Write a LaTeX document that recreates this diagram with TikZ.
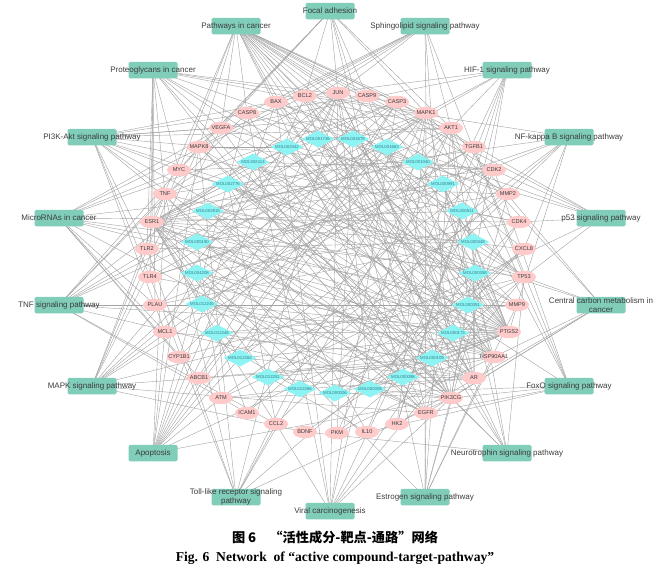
\documentclass[tikz,border=0pt]{standalone}
\usepackage{fontspec}
\setmainfont{Liberation Sans}
\newfontfamily\cjkfont{Noto Sans CJK SC}
\newfontfamily\capserif{Liberation Serif}
\usetikzlibrary{shapes.geometric}
\pgfdeclarelayer{bg}
\pgfsetlayers{bg,main}
\definecolor{pathfill}{HTML}{80CDB9}
\definecolor{tgtfill}{HTML}{FFCACA}
\definecolor{molfill}{HTML}{8EF3F3}
\definecolor{edgec}{HTML}{A4A4A4}
\definecolor{txtc}{HTML}{3C3C3C}
\definecolor{molt}{HTML}{2F7F8F}
\tikzset{
  pathbox/.style={rectangle, rounded corners=1.5pt, fill=pathfill, minimum width=49pt, minimum height=16.5pt, inner sep=0pt},
  pathlbl/.style={font=\fontsize{8}{9.5}\selectfont, text=txtc, align=center, inner sep=0pt},
  tgt/.style={ellipse, fill=tgtfill, minimum width=24pt, minimum height=12.5pt, inner sep=0pt, font=\fontsize{5.6}{6}\selectfont, text=txtc},
  mol/.style={diamond, fill=molfill, minimum width=33pt, minimum height=17pt, inner sep=0pt, font=\fontsize{4.3}{5}\selectfont, text=molt},
  edge/.style={draw=edgec, line width=0.42pt},
}
\newcommand{\pw}[4]{\node[pathbox, label={[pathlbl]center:{#4}}] (#1) at (#2,#3) {};}
\newcommand{\tg}[3]{\node[tgt] (#1) at (#2,#3) {\makebox[0pt]{#1}};}
\newcommand{\ml}[4]{\node[mol] (#1) at (#2,#3) {\makebox[0pt]{#4}};}
\begin{document}
\begin{tikzpicture}[x=1pt,y=-1pt]
\useasboundingbox (0,0) rectangle (667,574);
% pathways
\pw{p1}{330}{11}{Focal adhesion}
\pw{p2}{236}{26}{Pathways in cancer}
\pw{p3}{425}{26}{Sphingolipid signaling pathway}
\pw{p4}{153}{70}{Proteoglycans in cancer}
\pw{p5}{507}{70}{HIF-1 signaling pathway}
\pw{p6}{92}{137}{PI3K-Akt signaling pathway}
\pw{p7}{569}{137}{NF-kappa B signaling pathway}
\pw{p8}{59}{218}{MicroRNAs in cancer}
\pw{p9}{601}{218}{p53 signaling pathway}
\pw{p10}{59}{305}{TNF signaling pathway}
\pw{p11}{601}{305}{Central carbon metabolism in\\cancer}
\pw{p12}{92}{386}{MAPK signaling pathway}
\pw{p13}{569}{386}{FoxO signaling pathway}
\pw{p14}{153}{453}{Apoptosis}
\pw{p15}{507}{453}{Neurotrophin signaling pathway}
\pw{p16}{236}{497}{Toll-like receptor signaling\\pathway}
\pw{p17}{425}{497}{Estrogen signaling pathway}
\pw{p18}{330}{511}{Viral carcinogenesis}
% targets
\tg{BCL2}{305}{96}
\tg{JUN}{338}{93}
\tg{CASP9}{367}{96}
\tg{BAX}{276}{102}
\tg{CASP3}{397}{102}
\tg{CASP8}{247}{113}
\tg{MAPK1}{426}{113}
\tg{VEGFA}{221}{128}
\tg{AKT1}{451}{128}
\tg{MAPK8}{199}{147}
\tg{TGFB1}{474}{147}
\tg{MYC}{179}{170}
\tg{CDK2}{494}{170}
\tg{TNF}{165}{194}
\tg{MMP2}{508}{194}
\tg{ESR1}{152}{222}
\tg{CDK4}{519}{222}
\tg{TLR2}{147}{249}
\tg{CXCL8}{524}{249}
\tg{TLR4}{150}{277}
\tg{TP53}{524}{277}
\tg{PLAU}{155}{305}
\tg{MMP9}{517}{305}
\tg{MCL1}{165}{332}
\tg{PTGS2}{509}{332}
\tg{CYP1B1}{179}{357}
\tg{HSP90AA1}{494}{357}
\tg{ABCB1}{199}{378}
\tg{AR}{474}{378}
\tg{ATM}{221}{398}
\tg{PIK3CG}{451}{398}
\tg{ICAM1}{247}{413}
\tg{EGFR}{426}{413}
\tg{CCL2}{276}{424}
\tg{HK2}{397}{424}
\tg{BDNF}{305}{432}
\tg{IL10}{367}{432}
\tg{PKM}{337}{433}
% compounds
\ml{c1}{287}{147}{MOL002342}
\ml{c2}{318}{139}{MOL001736}
\ml{c3}{353}{139}{MOL001679}
\ml{c4}{387}{147}{MOL001663}
\ml{c5}{253}{162}{MOL002114}
\ml{c6}{418}{162}{MOL001040}
\ml{c7}{228}{184}{MOL002776}
\ml{c8}{443}{184}{MOL000991}
\ml{c9}{208}{211}{MOL002915}
\ml{c10}{462}{211}{MOL000511}
\ml{c11}{197}{242}{MOL005190}
\ml{c12}{473}{242}{MOL000449}
\ml{c13}{197}{273}{MOL004208}
\ml{c14}{475}{273}{MOL000358}
\ml{c15}{202}{304}{MOL012245}
\ml{c16}{468}{305}{MOL000351}
\ml{c17}{217}{333}{MOL012248}
\ml{c18}{453}{333}{MOL000173}
\ml{c19}{240}{358}{MOL012262}
\ml{c20}{432}{358}{MOL000109}
\ml{c21}{268}{377}{MOL012251}
\ml{c22}{403}{377}{MOL000098}
\ml{c23}{300}{389}{MOL012266}
\ml{c24}{335}{393}{MOL000006}
\ml{c25}{370}{389}{MOL000008}
% edges
\begin{pgfonlayer}{bg}
\foreach \s/\l in {
 p1/{BCL2,JUN,VEGFA,MAPK1,MAPK8,AKT1,EGFR,PIK3CG,CASP9,MYC},
 p2/{BCL2,CASP9,CASP3,CASP8,BAX,MAPK1,AKT1,TGFB1,MYC,CDK2,CDK4,TP53,MMP2,MMP9,PTGS2,VEGFA,CXCL8,HSP90AA1,AR,PIK3CG,EGFR,ESR1,JUN,MAPK8},
 p3/{BAX,BCL2,MAPK1,MAPK8,AKT1,TNF,PIK3CG,TP53,JUN,CASP8},
 p4/{AKT1,MAPK1,ESR1,MYC,TNF,VEGFA,MMP2,MMP9,PLAU,TLR2,TLR4,CASP3,TP53,EGFR,PIK3CG},
 p5/{AKT1,BCL2,EGFR,HK2,MAPK1,PIK3CG,VEGFA,TLR4,PKM,IL10},
 p6/{AKT1,BCL2,CDK2,CDK4,EGFR,MYC,PIK3CG,TP53,VEGFA,TLR2,TLR4,MCL1,HSP90AA1,MAPK1,CASP9},
 p7/{BCL2,CXCL8,ICAM1,PTGS2,TNF,TLR4,ATM,PLAU,CCL2},
 p8/{BCL2,CASP3,CDK4,EGFR,MCL1,MMP9,MYC,PLAU,PTGS2,TP53,VEGFA,CYP1B1,ABCB1,CDK2},
 p9/{ATM,BAX,CASP3,CASP8,CASP9,CDK2,CDK4,TP53},
 p10/{AKT1,CASP3,CASP8,CCL2,ICAM1,JUN,MAPK1,MAPK8,MMP9,PTGS2,TNF,PIK3CG},
 p11/{AKT1,EGFR,HK2,MYC,PKM,TP53,PIK3CG,MAPK1},
 p12/{AKT1,BDNF,CASP3,EGFR,JUN,MAPK1,MAPK8,MYC,TGFB1,TNF,TP53,VEGFA,HSP90AA1},
 p13/{AKT1,ATM,CDK2,EGFR,MAPK1,MAPK8,PIK3CG,TGFB1,IL10},
 p14/{AKT1,ATM,BAX,BCL2,CASP3,CASP8,CASP9,JUN,MAPK1,MAPK8,MCL1,TNF,TP53,PIK3CG},
 p15/{AKT1,BAX,BCL2,BDNF,JUN,MAPK1,MAPK8,PIK3CG,TP53},
 p16/{AKT1,CXCL8,JUN,MAPK1,MAPK8,PIK3CG,TLR2,TLR4,TNF,CCL2},
 p17/{AKT1,EGFR,ESR1,HSP90AA1,JUN,MAPK1,MMP2,MMP9,PIK3CG},
 p18/{BAX,CASP3,CASP8,CDK2,CDK4,JUN,MAPK1,PIK3CG,TP53,CCL2},
 c1/{PTGS2,ESR1,AR,PIK3CG,HSP90AA1,MAPK8,CASP3},
 c2/{PTGS2,HSP90AA1,ESR1,AR,AKT1,TNF,BCL2,JUN},
 c3/{PTGS2,PIK3CG,ESR1,MAPK1,TP53,PKM},
 c4/{PTGS2,AR,ESR1,HSP90AA1,CYP1B1,ABCB1},
 c5/{PTGS2,ESR1,HSP90AA1,PIK3CG,CDK2,MMP9},
 c6/{PTGS2,ESR1,AR,CDK2,CASP9,BAX,MYC},
 c7/{PTGS2,ESR1,AR,HSP90AA1,IL10,CCL2,MMP2},
 c8/{PTGS2,ESR1,HSP90AA1,VEGFA,ICAM1,TLR4},
 c9/{PTGS2,AR,PIK3CG,CXCL8,TGFB1,EGFR},
 c10/{PTGS2,ESR1,CDK4,BCL2,CASP8,HK2},
 c11/{PTGS2,HSP90AA1,AR,ESR1,JUN,MMP2,ATM},
 c12/{PTGS2,ESR1,AR,CASP3,TP53,TLR2,PLAU},
 c13/{PTGS2,HSP90AA1,PIK3CG,MCL1,CDK4,MAPK1},
 c14/{PTGS2,ESR1,AR,VEGFA,TNF,BAX,MYC,CYP1B1},
 c15/{ESR1,AR,PTGS2,HSP90AA1,TGFB1,EGFR},
 c16/{PTGS2,ESR1,PIK3CG,AKT1,CXCL8,BCL2},
 c17/{ESR1,PTGS2,AR,MMP9,CCL2,ICAM1},
 c18/{PTGS2,HSP90AA1,CASP9,JUN,TLR4,BDNF},
 c19/{PTGS2,AR,ESR1,CDK2,CASP3},
 c20/{PTGS2,ESR1,MAPK8,ABCB1,MCL1,TP53},
 c21/{PTGS2,HSP90AA1,ESR1,PIK3CG,IL10,MMP2},
 c22/{PTGS2,AR,ESR1,PKM,HK2,VEGFA,MAPK1,CASP8},
 c23/{PTGS2,ESR1,AR,PLAU,ATM},
 c24/{PTGS2,PIK3CG,HSP90AA1,CXCL8,AKT1,TNF},
 c25/{PTGS2,ESR1,AR,CDK4,TLR2,EGFR,JUN}}
 {\foreach \t in \l {\draw[edge] (\s.center) -- (\t.center);}}
\end{pgfonlayer}
% caption
\node[font=\cjkfont\bfseries\fontsize{13.2}{15}\selectfont, inner sep=0pt] (cap1) at (335,537) {图 6\quad “活性成分-靶点-通路”网络};
\node[font=\capserif\bfseries\fontsize{13.6}{15}\selectfont, inner sep=0pt] (cap2) at (335,558) {Fig. 6\enspace Network\ \ of “active compound-target-pathway”};
\end{tikzpicture}
\end{document}
